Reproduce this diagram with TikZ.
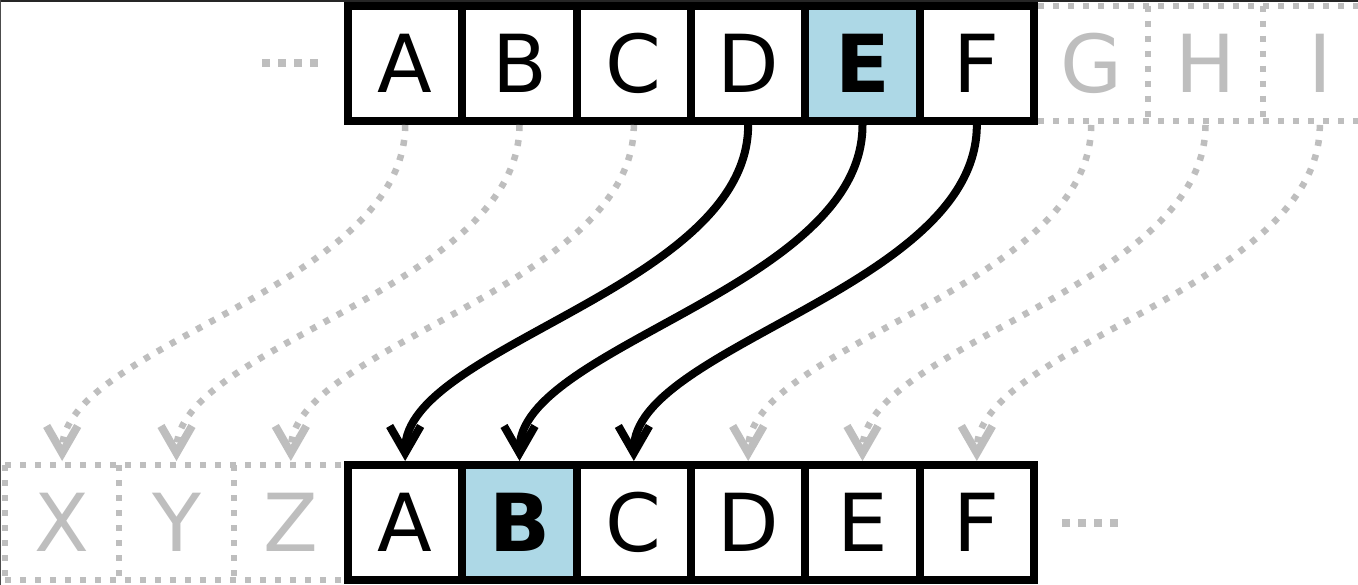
\documentclass[tikz,border=0pt]{standalone}
\usepackage{fontspec}
\usetikzlibrary{arrows.meta}
\newfontfamily\cellfont{DejaVu Sans}
\definecolor{ltgray}{HTML}{BEBEBE}
\definecolor{hlblue}{HTML}{ADD8E6}
\tikzset{
  cell/.style={rectangle, minimum width=114.333pt, minimum height=115pt, inner sep=0pt, outer sep=4pt,
    font=\cellfont\fontsize{80}{80}\selectfont},
  blk/.style={cell, draw=black, line width=8pt, fill=white},
  hi/.style={blk, fill=hlblue, font=\cellfont\bfseries\fontsize{80}{80}\selectfont},
  ghost/.style={cell, text=ltgray},
  gridline/.style={ltgray, line width=6pt, dash pattern=on 6pt off 9pt},
  ellip/.style={ltgray, line width=8pt, dash pattern=on 8pt off 8pt},
  vtip/.style={-{Straight Barb[length=27pt, width=31pt, line width=8pt]}},
  garrow/.style={gridline, line width=6.5pt, vtip},
  barrow/.style={black, line width=8pt, vtip},
}
\begin{document}
\begin{tikzpicture}[x=1pt, y=-1pt]
\useasboundingbox (0,0) rectangle (1358,585);
\fill[white] (0,0) rectangle (1358,585);
% frame edges seen in the picture
\fill[black!85] (0,0) rectangle (1358,2.5);
\fill[black!70] (0,0) rectangle (1.3,585);

% gray dotted grid, top right
\draw[gridline] (1038,6) -- (1358,6);
\draw[gridline] (1038,121) -- (1358,121);
\draw[gridline] (1148.33,6) -- (1148.33,121);
\draw[gridline] (1262.67,6) -- (1262.67,121);
% gray dotted grid, bottom left
\draw[gridline] (5,465) -- (344,465);
\draw[gridline] (5,580) -- (344,580);
\draw[gridline] (5,465) -- (5,580);
\draw[gridline] (119.33,465) -- (119.33,580);
\draw[gridline] (233.67,465) -- (233.67,580);

% top row
\node[blk]   (tA) at (405.17,63.5) {A};
\node[blk]   (tB) at (519.5,63.5)  {B};
\node[blk]   (tC) at (633.83,63.5) {C};
\node[blk]   (tD) at (748.17,63.5) {D};
\node[hi]    (tE) at (862.5,63.5)  {E};
\node[blk]   (tF) at (976.83,63.5) {F};
\node[ghost] (tG) at (1091.17,63.5) {G};
\node[ghost] (tH) at (1205.5,63.5)  {H};
\node[ghost] (tI) at (1319.83,63.5) {I};

% bottom row
\node[ghost] (bX) at (62.17,522.5)  {X};
\node[ghost] (bY) at (176.5,522.5)  {Y};
\node[ghost] (bZ) at (290.83,522.5) {Z};
\node[blk]   (bA) at (405.17,522.5) {A};
\node[hi]    (bB) at (519.5,522.5)  {B};
\node[blk]   (bC) at (633.83,522.5) {C};
\node[blk]   (bD) at (748.17,522.5) {D};
\node[blk]   (bE) at (862.5,522.5)  {E};
\node[blk]   (bF) at (976.83,522.5) {F};

% ellipses
\draw[ellip] (262,63.5) -- (318,63.5);
\draw[ellip] (1062,522.5) -- (1118,522.5);

% gray shifts
\foreach \s/\t in {tA/bX, tB/bY, tC/bZ, tG/bD, tH/bE, tI/bF}
  \draw[garrow] (\s.south) .. controls +(0,162) and +(0,-115) .. (\t.north);
% black shifts
\foreach \s/\t in {tD/bA, tE/bB, tF/bC}
  \draw[barrow] (\s.south) .. controls +(0,162) and +(0,-115) .. (\t.north);
\end{tikzpicture}
\end{document}
